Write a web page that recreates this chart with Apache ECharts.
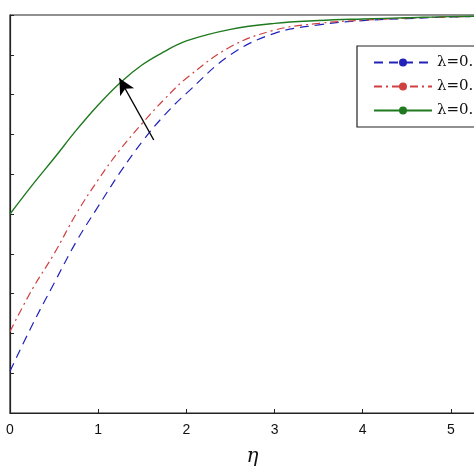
<!DOCTYPE html>
<html>
<head>
<meta charset="utf-8">
<script src="https://cdn.jsdelivr.net/npm/echarts@6/dist/echarts.min.js"></script>
<style>html,body{margin:0;padding:0;background:#fff}#main{width:474px;height:474px}</style>
</head>
<body>
<div id="main"></div>
<script>
// eta values and profile for each lambda
const eta = [0, 0.25, 0.5, 0.75, 1, 1.25, 1.5, 1.75, 2, 2.5, 3, 3.5, 4, 4.5, 5, 5.5];
const blue = [0.105, 0.22, 0.326, 0.43, 0.519, 0.605, 0.682, 0.748, 0.803, 0.90, 0.954, 0.975, 0.986, 0.991, 0.995, 0.997];
const red = [0.205, 0.31, 0.40, 0.50, 0.586, 0.662, 0.728, 0.788, 0.841, 0.92, 0.962, 0.979, 0.987, 0.992, 0.995, 0.997];
const green = [0.5, 0.572, 0.64, 0.71, 0.774, 0.83, 0.875, 0.908, 0.935, 0.964, 0.979, 0.986, 0.99, 0.993, 0.996, 0.997];
const names = ['λ=0.1', 'λ=0.2', 'λ=0.5'];
const xTicks = [0, 1, 2, 3, 4, 5];

const pair = (ys) => eta.map((x, i) => [x, ys[i]]);

var myChart = echarts.init(document.getElementById('main'));
myChart.setOption({
    animation: false,
    grid: {left: 10, top: 15, width: 485, bottom: 61, outerBoundsMode: 'none',
        show: true, borderColor: '#222', borderWidth: 1.2},
    legend: {
        data: names, left: 357, top: 46, orient: 'vertical', itemGap: 9,
        itemWidth: 58, itemHeight: 10, padding: [9, 8, 9, 16],
        borderColor: '#222', borderWidth: 1.2, backgroundColor: '#fff',
        textStyle: {fontFamily: 'DejaVu Serif', fontSize: 15, color: '#111'}
    },
    xAxis: {
        type: 'value', min: 0, max: 5.5, interval: 1,
        name: 'η', nameLocation: 'middle', nameGap: 34,
        nameTextStyle: {fontFamily: 'DejaVu Serif', fontStyle: 'italic', fontSize: 20, color: '#111'},
        axisLine: {lineStyle: {color: '#222', width: 1.2}},
        axisTick: {inside: true, length: 4, lineStyle: {color: '#222'}},
        axisLabel: {fontSize: 14, color: '#111', margin: 10,
            formatter: v => xTicks.includes(v) ? String(v) : ''},
        splitLine: {show: false}
    },
    yAxis: {
        type: 'value', min: 0, max: 1, interval: 0.1,
        axisLine: {lineStyle: {color: '#222', width: 1.2}},
        axisTick: {inside: true, length: 4, lineStyle: {color: '#222'}},
        axisLabel: {show: false},
        splitLine: {show: false}
    },
    series: [
        {name: names[0], type: 'line', smooth: 0.4, symbol: 'none', data: pair(blue),
            lineStyle: {color: '#2222bb', width: 1.2, type: [9, 6]}, itemStyle: {color: '#2222bb'}},
        {name: names[1], type: 'line', smooth: 0.4, symbol: 'none', data: pair(red),
            lineStyle: {color: '#d04040', width: 1.2, type: [8, 4, 2, 4]}, itemStyle: {color: '#d04040'}},
        {name: names[2], type: 'line', smooth: 0.4, symbol: 'none', data: pair(green),
            lineStyle: {color: '#1f7a1f', width: 1.4}, itemStyle: {color: '#1f7a1f'},
            markLine: {
                silent: true, symbol: ['none', 'arrow'], symbolSize: [12, 16],
                label: {show: false},
                lineStyle: {color: '#000', width: 1.4, type: 'solid'},
                data: [[{coord: [1.63, 0.686]}, {coord: [1.24, 0.841]}]]
            }}
    ]
});
</script>
</body>
</html>
